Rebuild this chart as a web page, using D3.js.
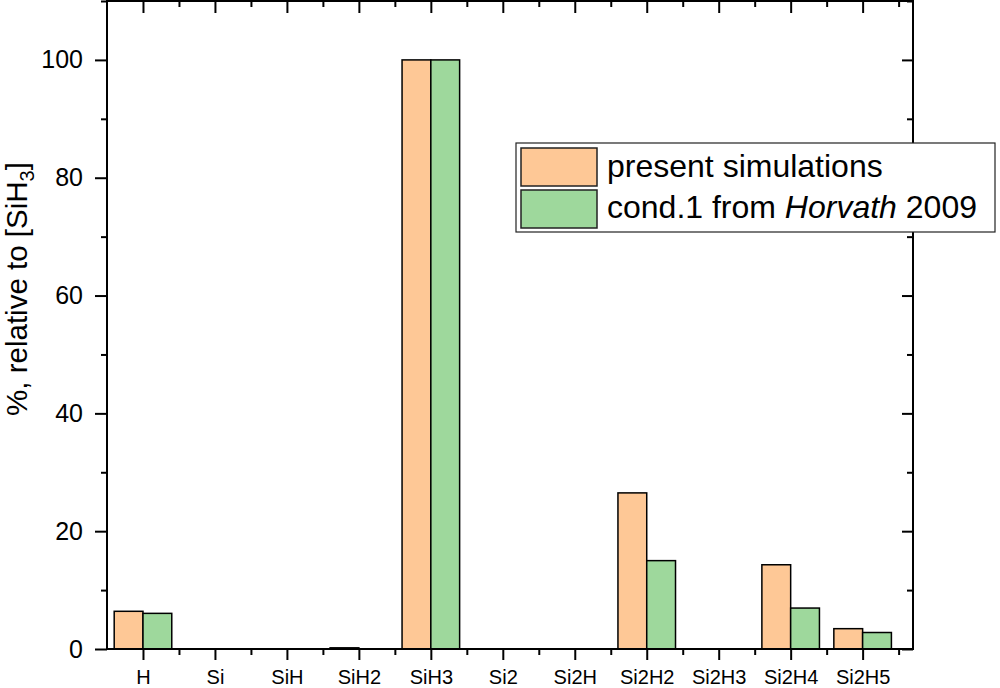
<!doctype html>
<html lang="en">
  <head>
    <meta charset="UTF-8" />
    <title>Species relative to SiH3</title>
    <script src="https://d3js.org/d3.v7.min.js"></script>
    <style>
      body {
        margin: 0;
        padding: 0;
        background: #fff;
        font-family: 'Liberation Sans', Arial, sans-serif;
      }
      svg text {
        fill: #000;
      }
      .tick-label {
        font-size: 25px;
      }
      .cat-label {
        font-size: 20px;
      }
      .legend-text {
        font-size: 32px;
      }
    </style>
  </head>
  <body>
    <div id="chart"></div>
    <script>
      // Data
      const categories = ['H', 'Si', 'SiH', 'SiH2', 'SiH3', 'Si2', 'Si2H', 'Si2H2', 'Si2H3', 'Si2H4', 'Si2H5']
      const presentSim = [6.4, 0, 0, 0.2, 100, 0, 0, 26.5, 0, 14.3, 3.45]
      const horvath = [6.05, 0, 0, 0, 100, 0, 0, 15.0, 0, 6.95, 2.8]
      const yMajorTicks = [0, 20, 40, 60, 80, 100]
      const yMinorTicks = [10, 30, 50, 70, 90, 110]
      const seriesNames = ['present simulations', 'cond.1 from ', 'Horvath', ' 2009']
      const colors = ['#FEC896', '#9ED89C']

      const W = 1000
      const H = 688
      const plotLeft = 107
      const plotRight = 913
      const plotTop = 1
      const plotBottom = 649

      const svg = d3.select('#chart').append('svg').attr('width', W).attr('height', H)

      const x = d3.scaleLinear().domain([0.5, 11.7]).range([plotLeft, plotRight])
      const y = d3.scaleLinear().domain([0, 110]).range([plotBottom, plotTop])
      const barW = 0.4

      const idx = categories.map((d, i) => i + 1)
      const halfIdx = d3.range(1.5, 11.6, 1)

      // bars
      const series = [presentSim, horvath]
      series.forEach((vals, s) => {
        svg
          .append('g')
          .selectAll('rect')
          .data(vals)
          .join('rect')
          .attr('x', (d, i) => x(i + 1 + (s === 0 ? -barW : 0)))
          .attr('width', x(barW) - x(0))
          .attr('y', (d) => y(d))
          .attr('height', (d) => y(0) - y(d))
          .attr('fill', colors[s])
          .attr('stroke', (d) => (d > 0 ? '#000' : 'none'))
          .attr('stroke-width', 1.5)
      })

      function styleAxis(g) {
        g.select('.domain').remove()
        g.selectAll('.tick line').attr('stroke', '#000').attr('stroke-width', 2)
      }

      // bottom axis
      svg
        .append('g')
        .attr('transform', `translate(0,${plotBottom})`)
        .call(d3.axisBottom(x).tickValues(idx).tickSize(11).tickPadding(10).tickFormat((d) => categories[d - 1]))
        .call(styleAxis)
        .selectAll('text')
        .attr('class', 'cat-label')
      svg
        .append('g')
        .attr('transform', `translate(0,${plotBottom})`)
        .call(d3.axisBottom(x).tickValues(halfIdx).tickSize(6).tickFormat(''))
        .call(styleAxis)

      // top axis (ticks inward)
      svg
        .append('g')
        .attr('transform', `translate(0,${plotTop})`)
        .call(d3.axisBottom(x).tickValues(idx).tickSize(12).tickFormat(''))
        .call(styleAxis)
      svg
        .append('g')
        .attr('transform', `translate(0,${plotTop})`)
        .call(d3.axisBottom(x).tickValues(halfIdx).tickSize(6).tickFormat(''))
        .call(styleAxis)

      // left axis
      svg
        .append('g')
        .attr('transform', `translate(${plotLeft},0)`)
        .call(d3.axisLeft(y).tickValues(yMajorTicks).tickSize(12).tickPadding(12))
        .call(styleAxis)
        .selectAll('text')
        .attr('class', 'tick-label')
      svg
        .append('g')
        .attr('transform', `translate(${plotLeft},0)`)
        .call(d3.axisLeft(y).tickValues(yMinorTicks).tickSize(6).tickFormat(''))
        .call(styleAxis)

      // right axis (ticks inward)
      svg
        .append('g')
        .attr('transform', `translate(${plotRight},0)`)
        .call(d3.axisLeft(y).tickValues(yMajorTicks).tickSize(11).tickFormat(''))
        .call(styleAxis)
      svg
        .append('g')
        .attr('transform', `translate(${plotRight},0)`)
        .call(d3.axisLeft(y).tickValues(yMinorTicks).tickSize(6).tickFormat(''))
        .call(styleAxis)

      // frame
      svg
        .append('rect')
        .attr('x', plotLeft)
        .attr('y', plotTop)
        .attr('width', plotRight - plotLeft)
        .attr('height', plotBottom - plotTop)
        .attr('fill', 'none')
        .attr('stroke', '#000')
        .attr('stroke-width', 2)

      // y axis title
      const yt = svg
        .append('text')
        .attr('transform', 'translate(27,289) rotate(-90)')
        .attr('text-anchor', 'middle')
        .attr('font-size', 29.5)
      yt.append('tspan').text('%, relative to [SiH')
      yt.append('tspan').attr('font-size', 20).attr('dy', 7).text('3')
      yt.append('tspan').attr('dy', -7).text(']')

      // legend
      const lg = svg.append('g').attr('transform', 'translate(516,143)')
      lg.append('rect')
        .attr('width', 479)
        .attr('height', 89)
        .attr('fill', '#fff')
        .attr('stroke', '#222')
        .attr('stroke-width', 1.2)
      colors.forEach((c, i) => {
        lg.append('rect')
          .attr('x', 5)
          .attr('y', 5 + i * 42)
          .attr('width', 76)
          .attr('height', 38)
          .attr('fill', c)
          .attr('stroke', '#222')
          .attr('stroke-width', 1.5)
      })
      lg.append('text').attr('class', 'legend-text').attr('x', 91).attr('y', 34).text(seriesNames[0])
      const l2 = lg.append('text').attr('class', 'legend-text').attr('x', 91).attr('y', 75)
      l2.append('tspan').text(seriesNames[1])
      l2.append('tspan').attr('font-style', 'italic').text(seriesNames[2])
      l2.append('tspan').text(seriesNames[3])
    </script>
  </body>
</html>
